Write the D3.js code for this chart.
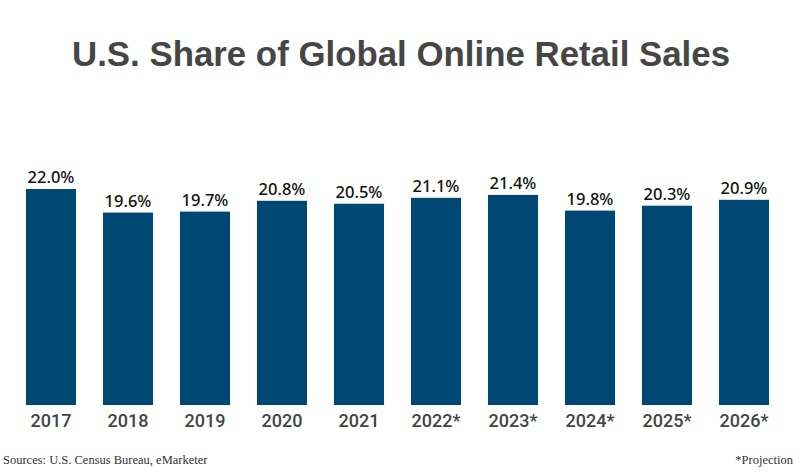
<!DOCTYPE html>
<html>
<head>
<meta charset="utf-8">
<script src="https://cdn.jsdelivr.net/npm/d3@7"></script>
<style>
  body { margin: 0; background: #fff; }
  svg { display: block; }
</style>
</head>
<body>
<svg id="chart" width="800" height="472"></svg>
<script>
// data
var years = ['2017', '2018', '2019', '2020', '2021', '2022*', '2023*', '2024*', '2025*', '2026*'];
var shares = [22.0, 19.6, 19.7, 20.8, 20.5, 21.1, 21.4, 19.8, 20.3, 20.9];

var width = 800, height = 472;
var baseY = 405;

var svg = d3.select('#chart');

var x = d3.scaleBand()
  .domain(years)
  .range([12.5, 782.5])
  .paddingInner(0.35)
  .paddingOuter(0.175);

// 22% reaches y=189
var y = d3.scaleLinear()
  .domain([0, 22])
  .range([baseY, 189]);

// title
svg.append('text')
  .attr('x', 401)
  .attr('y', 66)
  .attr('text-anchor', 'middle')
  .attr('font-family', '"Liberation Sans", Arial, sans-serif')
  .attr('font-weight', 'bold')
  .attr('font-size', 35)
  .attr('fill', '#464646')
  .attr('textLength', 658)
  .attr('lengthAdjust', 'spacingAndGlyphs')
  .text('U.S. Share of Global Online Retail Sales');

var bars = svg.selectAll('.bar')
  .data(shares)
  .enter();

bars.append('rect')
  .attr('class', 'bar')
  .attr('x', (d, i) => x(years[i]))
  .attr('y', d => y(d))
  .attr('width', x.bandwidth())
  .attr('height', d => baseY - y(d))
  .attr('fill', '#004874');

bars.append('text')
  .attr('x', (d, i) => x(years[i]) + x.bandwidth() / 2)
  .attr('y', d => y(d) - 6)
  .attr('text-anchor', 'middle')
  .attr('font-family', '"Noto Sans", sans-serif')
  .attr('font-weight', 500)
  .attr('font-size', 16.5)
  .attr('fill', '#111')
  .text(d => d.toFixed(1) + '%');

// x axis labels
var xAxis = d3.axisBottom(x).tickSize(0).tickPadding(0);
var gx = svg.append('g')
  .attr('transform', 'translate(0,' + 409 + ')')
  .call(xAxis);
gx.select('.domain').remove();
gx.selectAll('text')
  .attr('dy', '0')
  .attr('y', 18)
  .attr('font-family', 'Roboto, sans-serif')
  .attr('font-weight', 500)
  .attr('font-size', 18)
  .attr('fill', '#444');

// footnotes
svg.append('text')
  .attr('x', 3)
  .attr('y', 464)
  .attr('font-family', '"Liberation Serif", "Times New Roman", serif')
  .attr('font-size', 12.5)
  .attr('fill', '#333')
  .text('Sources: U.S. Census Bureau, eMarketer');

svg.append('text')
  .attr('x', 793)
  .attr('y', 464)
  .attr('text-anchor', 'end')
  .attr('font-family', '"Liberation Serif", "Times New Roman", serif')
  .attr('font-size', 12.5)
  .attr('fill', '#333')
  .text('*Projection');
</script>
</body>
</html>
